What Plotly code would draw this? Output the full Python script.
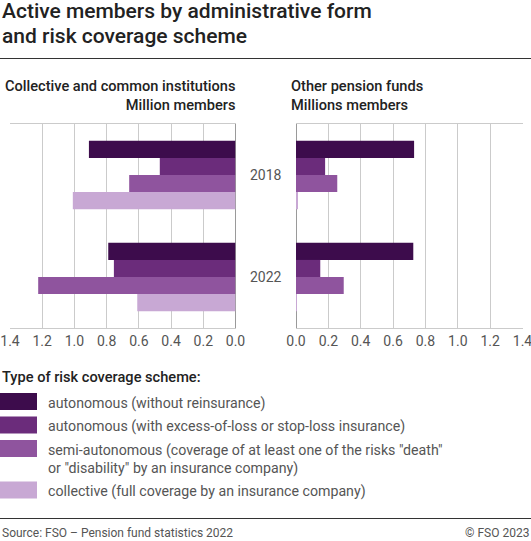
import plotly.graph_objects as go

# Active members (million) by risk coverage scheme
YEARS = ["2018", "2022"]
SCHEMES = [
    "autonomous (without reinsurance)",
    "autonomous (with excess-of-loss or stop-loss insurance)",
    "semi-autonomous (coverage of at least one of the risks \"death\"<br>or \"disability\" by an insurance company)",
    "collective (full coverage by an insurance company)",
]
COLORS = ["#3d0c4c", "#6b2c7b", "#8f549e", "#c8a8d4"]

# Collective and common institutions, per scheme: [2018, 2022]
collective_auto = [0.91, 0.79]
collective_xl = [0.47, 0.755]
collective_semi = [0.66, 1.225]
collective_full = [1.01, 0.61]

# Other pension funds, per scheme: [2018, 2022]
other_auto = [0.73, 0.725]
other_xl = [0.18, 0.15]
other_semi = [0.255, 0.295]
other_full = [0.012, 0.006]

TICKS = [0.0, 0.2, 0.4, 0.6, 0.8, 1.0, 1.2, 1.4]

W, H = 531, 541
FONT = "Roboto"
GRID = "#cbcbcb"
AXIS = "#9a9a9a"
TXT = "#555555"
DARK = "#222222"


def px(x):
    return x / W


def py(y):
    return 1 - y / H


left = [collective_auto, collective_xl, collective_semi, collective_full]
right = [other_auto, other_xl, other_semi, other_full]

fig = go.Figure()
for i, (name, col) in enumerate(zip(SCHEMES, COLORS)):
    fig.add_trace(go.Bar(x=left[i], y=YEARS, orientation="h", name=name,
                         marker=dict(color=col, line_width=0),
                         xaxis="x", yaxis="y", showlegend=False))
    fig.add_trace(go.Bar(x=right[i], y=YEARS, orientation="h", name=name,
                         marker=dict(color=col, line_width=0),
                         xaxis="x2", yaxis="y2", showlegend=False))

xcommon = dict(tickvals=TICKS, ticktext=[f"{t:.1f}" for t in TICKS],
               showgrid=True, gridcolor=GRID, gridwidth=1,
               zeroline=True, zerolinecolor=AXIS, zerolinewidth=1,
               showline=True, mirror=True, linecolor=GRID, linewidth=1,
               ticks="", automargin=False, ticklabeloverflow="allow",
               tickfont=dict(family=FONT, size=14, color=TXT))
ycommon = dict(type="category", autorange="reversed", showticklabels=False,
               showgrid=False, zeroline=False, showline=False, ticks="",
               automargin=False)

fig.update_layout(
    width=W, height=H, margin=dict(l=0, r=0, t=0, b=0, autoexpand=False),
    paper_bgcolor="white", plot_bgcolor="white",
    barmode="group", bargap=0.33, bargroupgap=0,
    font=dict(family=FONT, color=TXT),
    xaxis=dict(xcommon, domain=[px(10), px(235.5)], range=[1.4, 0], anchor="y"),
    yaxis=dict(ycommon, domain=[py(328), py(124)], anchor="x"),
    xaxis2=dict(xcommon, domain=[px(296), px(522.5)], range=[0, 1.4], anchor="y2"),
    yaxis2=dict(ycommon, domain=[py(328), py(124)], anchor="x2"),
)

ann = [
    dict(text="Active members by administrative form",
         x=0, y=py(11), xanchor="left", yanchor="middle",
         font=dict(size=21, color=DARK, weight=500)),
    dict(text="and risk coverage scheme",
         x=0, y=py(36), xanchor="left", yanchor="middle",
         font=dict(size=21, color=DARK, weight=500)),
    dict(text="Collective and common institutions<br>Million members",
         x=px(237), y=py(75), xanchor="right", yanchor="top", align="right",
         font=dict(size=14.6, color=DARK, weight=500)),
    dict(text="Other pension funds<br>Millions members",
         x=px(289), y=py(75), xanchor="left", yanchor="top", align="left",
         font=dict(size=14.6, color=DARK, weight=500)),
    dict(text="Type of risk coverage scheme:",
         x=0, y=py(377), xanchor="left", yanchor="middle",
         font=dict(size=14.6, color=DARK, weight=500)),
    dict(text="Source: FSO – Pension fund statistics 2022",
         x=0, y=py(533), xanchor="left", yanchor="middle",
         font=dict(size=12, color=TXT)),
    dict(text="© FSO 2023",
         x=1, y=py(533), xanchor="right", yanchor="middle",
         font=dict(size=12, color=TXT)),
]
# year labels between the panels (category axis: position = index)
for k, yr in enumerate(YEARS):
    ann.append(dict(text=yr, x=px(266), y=k, yref="y",
                    xanchor="center", yanchor="middle",
                    font=dict(size=14, color=TXT)))

# legend drawn as swatches + labels
leg_y = [401.5, 425, 448.5, 490]
shapes = []
for name, col, yc in zip(SCHEMES, COLORS, leg_y):
    shapes.append(dict(type="rect", xref="paper", yref="paper",
                       x0=0, x1=px(37), y0=py(yc - 8.5), y1=py(yc + 8.5),
                       fillcolor=col, line_width=0))
    ann.append(dict(text=name, x=px(46), y=py(yc - 9), xanchor="left",
                    yanchor="top", align="left",
                    font=dict(size=14.2, color=TXT)))

shapes.append(dict(type="line", xref="paper", yref="paper", x0=0, x1=1,
                   y0=py(58.5), y1=py(58.5), line=dict(color="#333333", width=1)))
shapes.append(dict(type="line", xref="paper", yref="paper", x0=0, x1=1,
                   y0=py(518.5), y1=py(518.5), line=dict(color="#333333", width=1)))

for a in ann:
    a.setdefault("xref", "paper")
    a.setdefault("yref", "paper")
    a.setdefault("showarrow", False)
fig.update_layout(annotations=ann, shapes=shapes)

# page margin off so the 531x541 figure fills the window exactly
fig.write_html("out.html", config={"displayModeBar": False},
               post_script="document.body.style.margin='0';"
                           "document.body.style.overflow='hidden';")
